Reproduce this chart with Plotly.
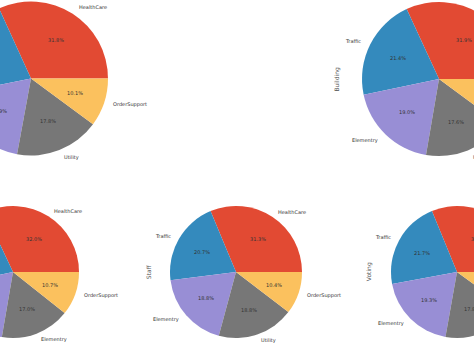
import math
import plotly.graph_objects as go

# ---------------- data ----------------
labels_a = ["HealthCare", "Traffic", "Elementry", "Utility", "OrderSupport"]
values_a = [31.8, 21.4, 18.9, 17.8, 10.1]

labels_b = ["HealthCare", "Traffic", "Elementry", "Utility", "OrderSupport"]
values_b = [31.9, 21.4, 19.0, 17.6, 10.1]

labels_c = ["HealthCare", "Traffic", "Utility", "Elementry", "OrderSupport"]
values_c = [32.0, 21.3, 19.0, 17.0, 10.7]

labels_d = ["HealthCare", "Traffic", "Elementry", "Utility", "OrderSupport"]
values_d = [31.3, 20.7, 18.8, 18.8, 10.4]

labels_e = ["HealthCare", "Traffic", "Elementry", "Utility", "OrderSupport"]
values_e = [31.2, 21.7, 19.3, 17.8, 10.0]

ylabels = ["", "Building", "", "Staff", "Voting"]

colors = ["#E24A33", "#348ABD", "#988ED5", "#777777", "#FBC15E"]

# ---------------- layout (screen px) ----------------
SHIFT = 70
W = 474 + 2 * SHIFT
H = 355
# (center x, center y, radius) on the visible screen
geoms = [(31, 78.5, 77), (439, 79, 77), (13, 272, 66), (236, 272, 66), (457, 272, 66)]
series = [(labels_a, values_a), (labels_b, values_b), (labels_c, values_c),
          (labels_d, values_d), (labels_e, values_e)]

fig = go.Figure()
annotations = []


def px(x):
    return (x + SHIFT) / W


def py(y):
    return 1 - y / H


for (labs, vals), (cx, cy, r), ylab in zip(series, geoms, ylabels):
    total = sum(vals)
    # plotly places the first counterclockwise slice clockwise of the start line;
    # shift so the first slice starts at 3 o'clock and runs counterclockwise
    rot = 90 - 360 * vals[0] / total
    fig.add_trace(go.Pie(
        labels=labs, values=vals, sort=False, direction="counterclockwise",
        rotation=rot, textinfo="none", hoverinfo="label+percent",
        marker=dict(colors=colors, line=dict(width=0)),
        domain=dict(x=[px(cx - r), px(cx + r)], y=[py(cy + r), py(cy - r)]),
        showlegend=False,
    ))
    cum = 0.0
    for lab, v in zip(labs, vals):
        theta = 2 * math.pi * (cum + v / 2) / total
        cum += v
        c, s = math.cos(theta), math.sin(theta)
        annotations.append(dict(
            x=px(cx + 0.6 * r * c), y=py(cy - 0.6 * r * s), xref="paper", yref="paper",
            text=f"{100 * v / total:.1f}%", showarrow=False,
            xanchor="center", yanchor="middle",
            font=dict(family="DejaVu Sans", size=5, color="#333333")))
        annotations.append(dict(
            x=px(cx + 1.1 * r * c), y=py(cy - 1.1 * r * s), xref="paper", yref="paper",
            text=lab, showarrow=False,
            xanchor="left" if c > 0 else "right", yanchor="middle",
            font=dict(family="DejaVu Sans", size=5, color="#333333")))
    if ylab:
        annotations.append(dict(
            x=px(cx - 1.33 * r), y=py(cy), xref="paper", yref="paper",
            text=ylab, showarrow=False, textangle=-90,
            xanchor="center", yanchor="middle",
            font=dict(family="DejaVu Sans", size=6, color="#555555")))

fig.update_layout(
    width=W, height=H,
    margin=dict(l=0, r=0, t=0, b=0),
    paper_bgcolor="white", plot_bgcolor="white",
    annotations=annotations,
)

post = ("document.body.style.margin='0';document.body.style.overflow='hidden';"
        "var d=document.getElementById('{plot_id}');"
        "d.style.position='absolute';d.style.left='-%dpx';d.style.top='0px';" % SHIFT)

fig.write_html("out.html", post_script=post)
